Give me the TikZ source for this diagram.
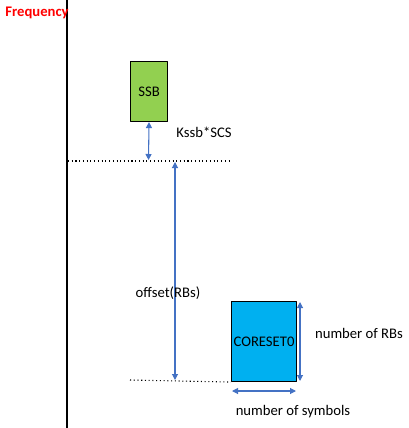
\documentclass[tikz,border=0pt]{standalone}
\usepackage{fontspec}
\setmainfont{Carlito}
\usetikzlibrary{arrows.meta}
\definecolor{ssbgreen}{HTML}{92D050}
\definecolor{coresetblue}{HTML}{00B0F0}
\definecolor{arrowblue}{HTML}{4472C4}

\begin{document}
\begin{tikzpicture}[x=0.75pt,y=-0.75pt,line join=round,font=\fontsize{11}{13}\selectfont,
  dimline/.style={arrowblue,line width=0.8pt,{Triangle[length=4.5pt,width=4.5pt]}-{Triangle[length=4.5pt,width=4.5pt]}},
  box/.style={draw=black,line width=0.8pt,inner sep=0pt,anchor=north west},
  refline/.style={line width=0.8pt,dotted}]
\useasboundingbox (0,0) rectangle (408,428);
% frequency axis
\draw[line width=1pt] (67,0) -- (67,428);
\node[red,font=\fontsize{11}{13}\selectfont\bfseries] (freq) at (37,13) {Frequency};
% blocks
\node[box,fill=ssbgreen,minimum width=27.75pt,minimum height=45pt] (ssb) at (130,61) {};
\node (ssbtext) at (ssb.center) {SSB};
\node[box,fill=coresetblue,minimum width=48.75pt,minimum height=60pt] (coreset) at (231,301) {};
\node (coresettext) at (coreset.center) {CORESET0};
% reference lines
\coordinate (refa-l) at (68,161);
\coordinate (refa-r) at (231,161);
\coordinate (refb-l) at (130,380);
\draw[refline] (refa-l) -- (refa-r);
\draw[refline] (refb-l) -- (coreset.south west);
% dimensions
\coordinate (kssb-b) at (148.5,160);
\coordinate (off-t) at (175,162);
\coordinate (off-b) at (175,380);
\coordinate (rb-t) at (300,302);
\coordinate (rb-b) at (300,381);
\coordinate (sym-l) at (232,391);
\coordinate (sym-r) at (296,391);
\draw[dimline] (ssb.south) -- (kssb-b);
\draw[dimline] (off-t) -- (off-b);
\draw[dimline] (rb-t) -- (rb-b);
\draw[dimline] (sym-l) -- (sym-r);
% labels
\node (kssb) at (204,132) {Kssb*SCS};
\node (offset) at (168,293) {offset(RBs)};
\node (rbs) at (359,333) {number of RBs};
\node (syms) at (293,412) {number of symbols};
\end{tikzpicture}
\end{document}
